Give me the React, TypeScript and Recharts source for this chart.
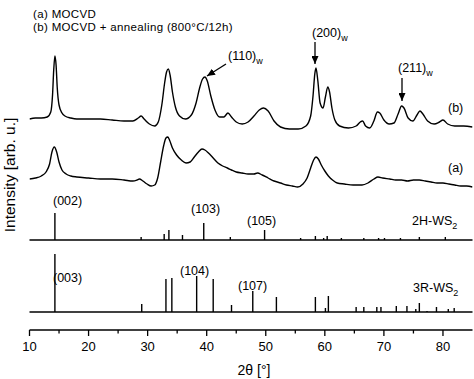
import { ComposedChart, Line, XAxis, YAxis, ReferenceLine, Customized } from 'recharts';

// measured scans, [2theta, intensity] (arbitrary offsets)
const scanB: [number, number][] = [
  [10, 211], [11, 212], [12, 212], [13, 213], [13.6, 218], [13.9, 235], [14.1, 260], [14.3, 274],
  [14.5, 265], [14.7, 242], [15, 225], [15.5, 217], [16, 214], [17, 212], [18, 211], [20, 211],
  [22, 211], [24, 210], [26, 209], [27.5, 209], [28.4, 212], [28.9, 214], [29.4, 211], [30.3, 206],
  [31.2, 204], [31.8, 208], [32.4, 225], [32.9, 248], [33.2, 258], [33.5, 261], [33.8, 255], [34.2, 238],
  [34.7, 223], [35.4, 214], [36.4, 211], [37.4, 215], [38.2, 227], [38.8, 242], [39.3, 251], [39.7, 253],
  [40.1, 249], [40.7, 234], [41.4, 220], [42.2, 213], [42.9, 213], [43.6, 217], [44.2, 213], [45, 208],
  [46, 206], [47, 208], [48, 214], [48.9, 220], [49.6, 222], [50.4, 219], [51.4, 209], [52.5, 203],
  [54, 201], [55.5, 201], [56.8, 204], [57.6, 214], [58, 234], [58.3, 256], [58.5, 262], [58.8, 250],
  [59.2, 227], [59.7, 222], [60.1, 233], [60.5, 243], [60.8, 238], [61.2, 222], [61.7, 210], [62.5, 204],
  [64, 202], [65.3, 204], [66, 208], [66.4, 209], [66.9, 204], [67.6, 202], [68.3, 209], [68.9, 218],
  [69.3, 217], [70, 210], [70.9, 206], [71.7, 207], [72.4, 216], [73, 224], [73.4, 222], [74.1, 212],
  [74.9, 209], [75.6, 215], [76.1, 219], [76.6, 216], [77.4, 209], [78.5, 206], [79.4, 208], [80, 210],
  [80.8, 206], [82, 204], [83.5, 204], [85, 203],
];

const scanA: [number, number][] = [
  [10, 151], [11, 152], [12, 154], [12.8, 158], [13.4, 166], [13.8, 178], [14.2, 183], [14.6, 178],
  [15, 168], [15.5, 160], [16.2, 156], [17, 154], [18, 153], [20, 152], [22, 151], [24, 151],
  [26, 150], [27.5, 149], [28.2, 150], [28.6, 151], [29.2, 149], [29.9, 146], [30.6, 144], [31.2, 145],
  [31.7, 152], [32.2, 168], [32.7, 184], [33.1, 192], [33.4, 193], [33.7, 190], [34.2, 182], [34.9, 175],
  [35.7, 170], [36.5, 167], [37.2, 168], [37.9, 173], [38.6, 178], [39.2, 181], [39.7, 180], [40.3, 177],
  [41.1, 172], [41.9, 167], [42.7, 164], [43.5, 162], [44.2, 160], [45, 158], [46, 157], [47, 156],
  [48, 156], [48.6, 157], [49.4, 155], [50.4, 152], [51.4, 149], [52.5, 147], [53.5, 145], [54.5, 144],
  [55.4, 143], [56.3, 146], [57, 152], [57.6, 162], [58.1, 170], [58.5, 173], [58.9, 171], [59.4, 165],
  [60, 159], [60.6, 154], [61.3, 150], [62.1, 147], [63.3, 146], [64.8, 145], [66.3, 145], [67.3, 147],
  [68.3, 151], [69, 153], [69.8, 152], [71, 151], [72, 150], [73, 150], [74, 149], [75, 150],
  [76, 150], [77, 149], [78, 148], [79, 147], [80, 147], [81, 146], [82, 145], [83, 144],
  [84, 144], [85, 143],
];

// reference patterns
const base2H = 90;
const pos2H = [14.3, 28.9, 32.8, 33.6, 35.9, 39.5, 44.0, 49.8, 55.9, 58.4, 59.8, 60.4, 62.8, 66.6, 69.1, 70.1, 72.8, 76.0, 80.4];
const hgt2H = [27, 3, 6, 10, 5, 17, 3, 10, 2, 4, 2, 4, 2, 2, 2, 2, 2, 3, 3];

const base3R = 18;
const pos3R = [14.3, 29.0, 33.1, 34.1, 38.3, 41.1, 44.2, 47.8, 51.8, 58.4, 60.1, 60.6, 65.3, 66.6, 68.8, 69.5, 72.1, 73.9, 75.4, 76.0, 77.3, 78.9, 80.9, 81.9];
const hgt3R = [58, 8, 33, 34, 36, 33, 7, 21, 15, 15, 4, 16, 5, 5, 5, 5, 6, 6, 3, 9, 1, 5, 3, 4];

const xTicks = [10, 15, 20, 25, 30, 35, 40, 45, 50, 55, 60, 65, 70, 75, 80];

const FONT = '"Liberation Sans", Arial, sans-serif';

const toRows = (pts: [number, number][]) => pts.map(([t, v]) => ({ t, v }));

const AxisTick = (props: any) => {
  const { x, y, payload } = props;
  const major = payload.value % 10 === 0;
  return (
    <g>
      <line x1={x} x2={x} y1={y} y2={y + (major ? 6 : 3.5)} stroke="#000" strokeWidth={1.3} />
      {major && (
        <text x={x} y={y + 20.5} textAnchor="middle" fontSize={13} fontFamily={FONT} fill="#000">
          {payload.value}
        </text>
      )}
    </g>
  );
};

const Sub = ({ children }: { children: string }) => (
  <tspan fontSize={9} dy={4}>{children}</tspan>
);

const Annotations = () => (
  <g fontFamily={FONT} fill="#000" fontSize={12.5}>
    <defs>
      <marker id="ah" markerUnits="userSpaceOnUse" markerWidth={8} markerHeight={7} refX={8} refY={3.5} orient="auto">
        <path d="M0,0 L8,3.5 L0,7 z" fill="#000" />
      </marker>
    </defs>
    <text x={33} y={17.8} fontSize={11.5} letterSpacing={0.35}>(a) MOCVD</text>
    <text x={33} y={30.5} fontSize={11.5} letterSpacing={0.35}>(b) MOCVD + annealing (800°C/12h)</text>

    <text x={228} y={60}>(110)<Sub>w</Sub></text>
    <line x1={226} y1={64} x2={207} y2={76} stroke="#000" strokeWidth={1.3} markerEnd="url(#ah)" />
    <text x={312} y={36.5}>(200)<Sub>w</Sub></text>
    <line x1={315} y1={42} x2={315} y2={64} stroke="#000" strokeWidth={1.3} markerEnd="url(#ah)" />
    <text x={398} y={71.5}>(211)<Sub>w</Sub></text>
    <line x1={402} y1={78} x2={402} y2={101} stroke="#000" strokeWidth={1.3} markerEnd="url(#ah)" />

    <text x={448} y={111.5}>(b)</text>
    <text x={448} y={171.5}>(a)</text>

    <text x={53} y={204.5}>(002)</text>
    <text x={191} y={212.5}>(103)</text>
    <text x={247} y={224.5}>(105)</text>
    <text x={412} y={224.5}>2H-WS<Sub>2</Sub></text>

    <text x={53} y={281.5}>(003)</text>
    <text x={180} y={274.5}>(104)</text>
    <text x={238} y={289.5}>(107)</text>
    <text x={413} y={291.5}>3R-WS<Sub>2</Sub></text>

    <text x={254} y={375} textAnchor="middle" fontSize={14}>2θ [°]</text>
    <text x={15} y={175} textAnchor="middle" fontSize={15.5} transform="rotate(-90 15 175)">Intensity [arb. u.]</text>
  </g>
);

export default function App() {
  return (
    <div style={{ position: 'absolute', left: 0, top: 0, background: '#fff' }}>
      <ComposedChart width={474} height={379} margin={{ top: 1, right: 1.5, bottom: 0, left: 29.5 }}>
        <XAxis
          dataKey="t"
          type="number"
          domain={[10, 85]}
          ticks={xTicks}
          allowDataOverflow
          height={49}
          tickSize={0}
          tickMargin={0}
          tickLine={false}
          tick={<AxisTick />}
          axisLine={{ stroke: '#000', strokeWidth: 1.5 }}
        />
        <XAxis xAxisId="top" orientation="top" type="number" domain={[10, 85]} height={0} tick={false} tickLine={false} axisLine={{ stroke: '#222', strokeWidth: 1.5 }} />
        <YAxis type="number" domain={[0, 329]} allowDataOverflow width={0} tick={false} tickLine={false} axisLine={{ stroke: '#000', strokeWidth: 1.5 }} />
        <YAxis yAxisId="right" orientation="right" type="number" domain={[0, 329]} width={0} tick={false} tickLine={false} axisLine={{ stroke: '#aaa', strokeWidth: 2 }} />

        <ReferenceLine y={base2H} stroke="#000" strokeWidth={1.5} />
        <ReferenceLine y={base3R} stroke="#000" strokeWidth={1.5} />
        {pos2H.map((p, i) => (
          <ReferenceLine key={'h' + i} segment={[{ x: p, y: base2H }, { x: p, y: base2H + hgt2H[i] }]} stroke="#000" strokeWidth={1.4} />
        ))}
        {pos3R.map((p, i) => (
          <ReferenceLine key={'r' + i} segment={[{ x: p, y: base3R }, { x: p, y: base3R + hgt3R[i] }]} stroke="#000" strokeWidth={1.4} />
        ))}

        <Line data={toRows(scanB)} dataKey="v" type="monotone" stroke="#000" strokeWidth={1.4} dot={false} isAnimationActive={false} />
        <Line data={toRows(scanA)} dataKey="v" type="monotone" stroke="#000" strokeWidth={1.4} dot={false} isAnimationActive={false} />

        <Customized component={Annotations} />
      </ComposedChart>
    </div>
  );
}
